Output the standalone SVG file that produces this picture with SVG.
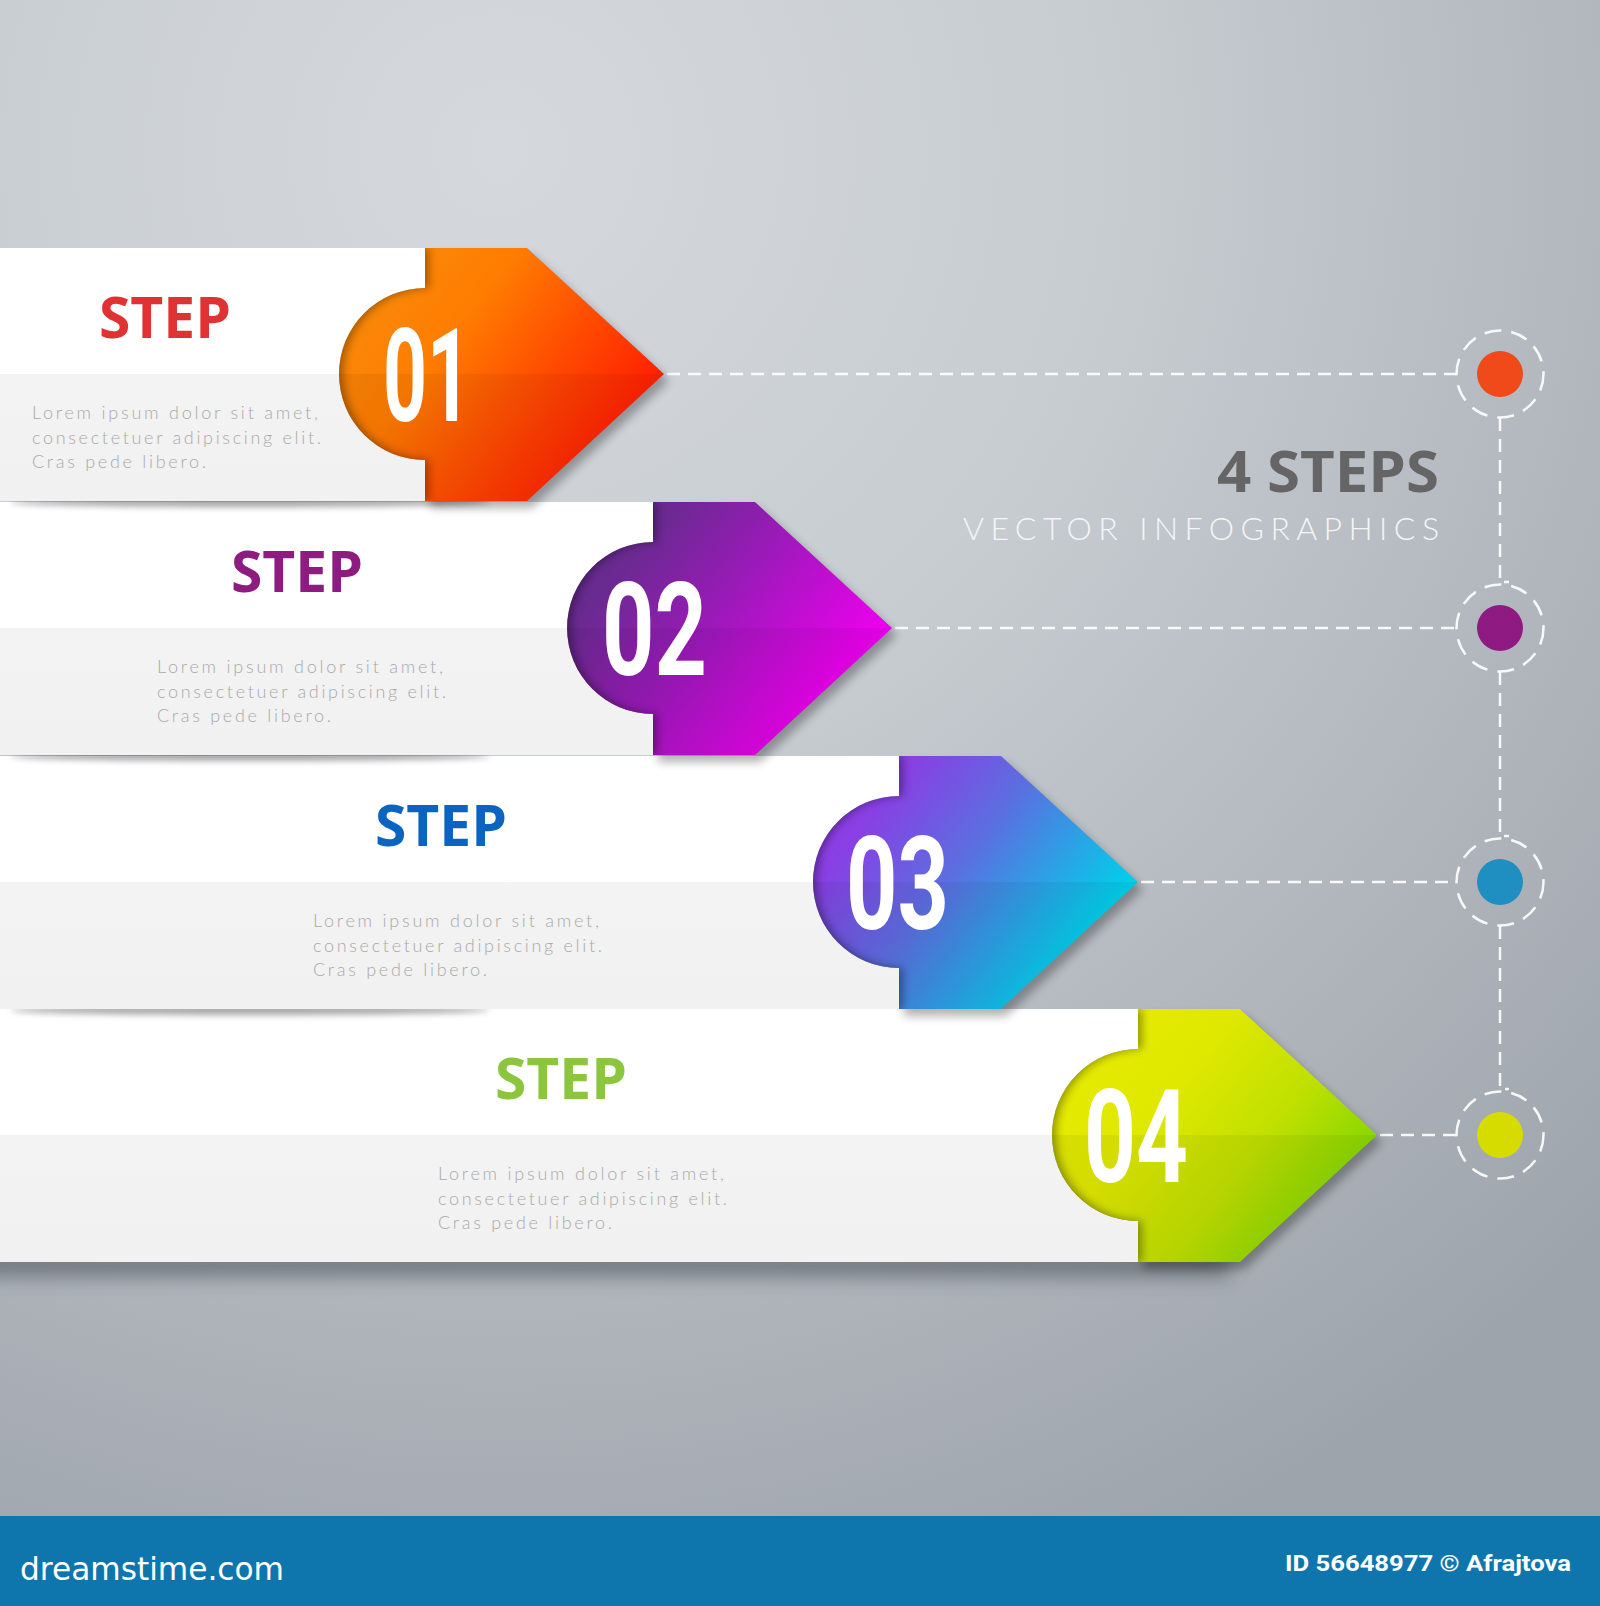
<svg xmlns="http://www.w3.org/2000/svg" width="1600" height="1606" viewBox="0 0 1600 1606">
<style>
.step{font-family:"Open Sans","Liberation Sans",sans-serif;font-weight:700;font-size:57px}
.num{font-family:Roboto,"Liberation Sans",sans-serif;font-weight:700;font-size:129px;fill:#fff}
.lorem{font-family:Lato,"Open Sans",sans-serif;font-weight:300;font-size:18px;fill:#a9a9a9}
.dash{fill:none;stroke:#fff;stroke-width:2.5;stroke-dasharray:13 8;opacity:.9}
.ring{fill:none;stroke:#fff;stroke-width:2.5;stroke-dasharray:17 10;opacity:.9}
.paper{fill:url(#paper)}
</style>
<defs>
<radialGradient id="bg" gradientUnits="userSpaceOnUse" cx="500" cy="150" r="1550">
<stop offset="0" stop-color="#d5d9dd"/><stop offset="0.4" stop-color="#c7ccd1"/><stop offset="1" stop-color="#9ea4ab"/>
</radialGradient>
<linearGradient id="paper" x1="0" y1="0" x2="0" y2="1">
<stop offset="0" stop-color="#ffffff"/><stop offset="0.498" stop-color="#ffffff"/><stop offset="0.5" stop-color="#f3f3f3"/><stop offset="1" stop-color="#f1f1f1"/>
</linearGradient>
<linearGradient id="g1" gradientUnits="userSpaceOnUse" x1="339" y1="248" x2="664" y2="501">
<stop offset="0" stop-color="#f59010"/><stop offset="0.35" stop-color="#ff7c00"/><stop offset="0.6" stop-color="#ff4800"/><stop offset="0.8" stop-color="#ff2200"/><stop offset="1" stop-color="#e01010"/>
</linearGradient>
<linearGradient id="g2" gradientUnits="userSpaceOnUse" x1="567" y1="502" x2="892" y2="755">
<stop offset="0" stop-color="#5c2c88"/><stop offset="0.2" stop-color="#6a2a90"/><stop offset="0.45" stop-color="#9a1ab8"/><stop offset="0.8" stop-color="#ee00ee"/><stop offset="1" stop-color="#e000e8"/>
</linearGradient>
<linearGradient id="g3" gradientUnits="userSpaceOnUse" x1="813" y1="756" x2="1138" y2="1009">
<stop offset="0" stop-color="#9a3ae8"/><stop offset="0.2" stop-color="#8840e4"/><stop offset="0.45" stop-color="#5a70e0"/><stop offset="0.8" stop-color="#00d0ea"/><stop offset="1" stop-color="#10b8dc"/>
</linearGradient>
<linearGradient id="g4" gradientUnits="userSpaceOnUse" x1="1052" y1="1009" x2="1377" y2="1262">
<stop offset="0" stop-color="#e8ec00"/><stop offset="0.35" stop-color="#e0e800"/><stop offset="0.6" stop-color="#c0e000"/><stop offset="0.8" stop-color="#8cd800"/><stop offset="1" stop-color="#78c410"/>
</linearGradient>
<filter id="blur4" x="-20%" y="-20%" width="140%" height="140%"><feGaussianBlur stdDeviation="4"/></filter>
<filter id="blur5" x="-20%" y="-20%" width="140%" height="140%"><feGaussianBlur stdDeviation="5"/></filter>
<filter id="blur3" x="-20%" y="-300%" width="140%" height="700%"><feGaussianBlur stdDeviation="3"/></filter>
<filter id="blur10" x="-10%" y="-300%" width="120%" height="700%"><feGaussianBlur stdDeviation="10"/></filter>
<path id="c1" d="M425,248 H527 L664,374 L527,501 H425 V460 A86,86 0 0 1 425,288 Z"/>
<path id="w1" d="M0,248 H425 V288 A86,86 0 0 0 425,460 V501 H0 Z"/>
<path id="c2" d="M653,502 H755 L892,628 L755,755 H653 V714 A86,86 0 0 1 653,542 Z"/>
<path id="w2" d="M0,502 H653 V542 A86,86 0 0 0 653,714 V755 H0 Z"/>
<path id="c3" d="M899,756 H1001 L1138,882 L1001,1009 H899 V968 A86,86 0 0 1 899,796 Z"/>
<path id="w3" d="M0,756 H899 V796 A86,86 0 0 0 899,968 V1009 H0 Z"/>
<path id="c4" d="M1138,1009 H1240 L1377,1135 L1240,1262 H1138 V1221 A86,86 0 0 1 1138,1049 Z"/>
<path id="w4" d="M0,1009 H1138 V1049 A86,86 0 0 0 1138,1221 V1262 H0 Z"/>
<clipPath id="k1"><use href="#c1"/></clipPath>
<clipPath id="k2"><use href="#c2"/></clipPath>
<clipPath id="k3"><use href="#c3"/></clipPath>
<clipPath id="k4"><use href="#c4"/></clipPath>
</defs>

<rect id="background" x="0" y="0" width="1600" height="1606" fill="url(#bg)"/>

<g id="connectors">
<line class="dash" x1="667" y1="374" x2="1456" y2="374"/>
<line class="dash" x1="895" y1="628" x2="1456" y2="628"/>
<line class="dash" x1="1141" y1="882" x2="1456" y2="882"/>
<line class="dash" x1="1380" y1="1135" x2="1456" y2="1135"/>
<path class="dash" d="M1500,418 V582 H1509"/>
<path class="dash" d="M1500,672 V836 H1509"/>
<path class="dash" d="M1500,926 V1089 H1509"/>
</g>

<g id="dot1"><circle class="ring" cx="1500" cy="374" r="43.5"/><circle cx="1500" cy="374" r="23" fill="#f04a1a"/></g>
<g id="dot2"><circle class="ring" cx="1500" cy="628" r="43.5"/><circle cx="1500" cy="628" r="23" fill="#8e1a82"/></g>
<g id="dot3"><circle class="ring" cx="1500" cy="882" r="43.5"/><circle cx="1500" cy="882" r="23" fill="#1e8fc0"/></g>
<g id="dot4"><circle class="ring" cx="1500" cy="1135" r="43.5"/><circle cx="1500" cy="1135" r="23" fill="#d6dc00"/></g>

<g id="step4">
<rect x="-60" y="1252" width="1290" height="24" fill="#3a4148" opacity="0.55" filter="url(#blur10)"/>
<use href="#c4" fill="#000" opacity="0.3" transform="translate(5,7)" filter="url(#blur5)"/>
<use href="#w4" class="paper"/>
<use href="#c4" fill="url(#g4)"/>
<g clip-path="url(#k4)">
<rect x="1040" y="1135" width="340" height="127" fill="#000" opacity="0.05"/>
<use href="#w4" fill="#000" opacity="0.35" transform="translate(4,0)" filter="url(#blur4)"/>
</g>
<text class="step" x="495" y="1099" fill="#8cc63f" textLength="132" lengthAdjust="spacingAndGlyphs">STEP</text>
<text class="lorem" x="438" y="1180" textLength="286">Lorem ipsum dolor sit amet,</text>
<text class="lorem" x="438" y="1205" textLength="289">consectetuer adipiscing elit.</text>
<text class="lorem" x="438" y="1229" textLength="174">Cras pede libero.</text>
<text class="num" x="1084" y="1182" textLength="104" lengthAdjust="spacingAndGlyphs">04</text>
</g>

<g id="step3">
<ellipse cx="250" cy="1010" rx="240" ry="5" fill="#000" opacity="0.35" filter="url(#blur3)"/>
<use href="#c3" fill="#000" opacity="0.3" transform="translate(5,7)" filter="url(#blur5)"/>
<use href="#w3" class="paper"/>
<use href="#c3" fill="url(#g3)"/>
<g clip-path="url(#k3)">
<rect x="800" y="882" width="340" height="127" fill="#000" opacity="0.05"/>
<use href="#w3" fill="#000" opacity="0.35" transform="translate(4,0)" filter="url(#blur4)"/>
</g>
<text class="step" x="375" y="846" fill="#0a64c0" textLength="132" lengthAdjust="spacingAndGlyphs">STEP</text>
<text class="lorem" x="313" y="927" textLength="286">Lorem ipsum dolor sit amet,</text>
<text class="lorem" x="313" y="952" textLength="289">consectetuer adipiscing elit.</text>
<text class="lorem" x="313" y="976" textLength="174">Cras pede libero.</text>
<text class="num" x="846" y="929" textLength="103" lengthAdjust="spacingAndGlyphs">03</text>
</g>

<g id="step2">
<ellipse cx="250" cy="756" rx="240" ry="5" fill="#000" opacity="0.35" filter="url(#blur3)"/>
<use href="#c2" fill="#000" opacity="0.3" transform="translate(5,7)" filter="url(#blur5)"/>
<use href="#w2" class="paper"/>
<use href="#c2" fill="url(#g2)"/>
<g clip-path="url(#k2)">
<rect x="560" y="628" width="340" height="127" fill="#000" opacity="0.05"/>
<use href="#w2" fill="#000" opacity="0.35" transform="translate(4,0)" filter="url(#blur4)"/>
</g>
<text class="step" x="231" y="592" fill="#8e1c80" textLength="132" lengthAdjust="spacingAndGlyphs">STEP</text>
<text class="lorem" x="157" y="673" textLength="286">Lorem ipsum dolor sit amet,</text>
<text class="lorem" x="157" y="698" textLength="289">consectetuer adipiscing elit.</text>
<text class="lorem" x="157" y="722" textLength="174">Cras pede libero.</text>
<text class="num" x="602" y="675" textLength="105" lengthAdjust="spacingAndGlyphs">02</text>
</g>

<g id="step1">
<ellipse cx="250" cy="502" rx="240" ry="5" fill="#000" opacity="0.35" filter="url(#blur3)"/>
<use href="#c1" fill="#000" opacity="0.3" transform="translate(5,7)" filter="url(#blur5)"/>
<use href="#w1" class="paper"/>
<use href="#c1" fill="url(#g1)"/>
<g clip-path="url(#k1)">
<rect x="330" y="374" width="340" height="127" fill="#000" opacity="0.05"/>
<use href="#w1" fill="#000" opacity="0.35" transform="translate(4,0)" filter="url(#blur4)"/>
</g>
<text class="step" x="99" y="338" fill="#e03232" textLength="132" lengthAdjust="spacingAndGlyphs">STEP</text>
<text class="lorem" x="32" y="419" textLength="286">Lorem ipsum dolor sit amet,</text>
<text class="lorem" x="32" y="444" textLength="289">consectetuer adipiscing elit.</text>
<text class="lorem" x="32" y="468" textLength="174">Cras pede libero.</text>
<text class="num" x="383" y="421" textLength="88" lengthAdjust="spacingAndGlyphs">01</text>
</g>

<g id="title">
<text x="1439" y="492" text-anchor="end" font-family="'Open Sans','Liberation Sans',sans-serif" font-weight="700" font-size="57" fill="#656565" textLength="222" lengthAdjust="spacingAndGlyphs">4 STEPS</text>
<text x="963" y="540" font-family="Lato,'Open Sans',sans-serif" font-weight="300" font-size="32" fill="#f4f5f6" textLength="476" lengthAdjust="spacing">VECTOR INFOGRAPHICS</text>
</g>

<g id="footer">
<rect x="0" y="1516" width="1600" height="90" fill="#0f76ad"/>
<text x="20" y="1580" font-family="'DejaVu Sans',sans-serif" font-size="32" fill="#fff" textLength="264" lengthAdjust="spacingAndGlyphs">dreamstime.com</text>
<text x="1285" y="1571" font-family="Roboto,'Liberation Sans',sans-serif" font-weight="700" font-size="22" fill="#fff" textLength="286" lengthAdjust="spacingAndGlyphs">ID 56648977 © Afrajtova</text>
</g>
</svg>
